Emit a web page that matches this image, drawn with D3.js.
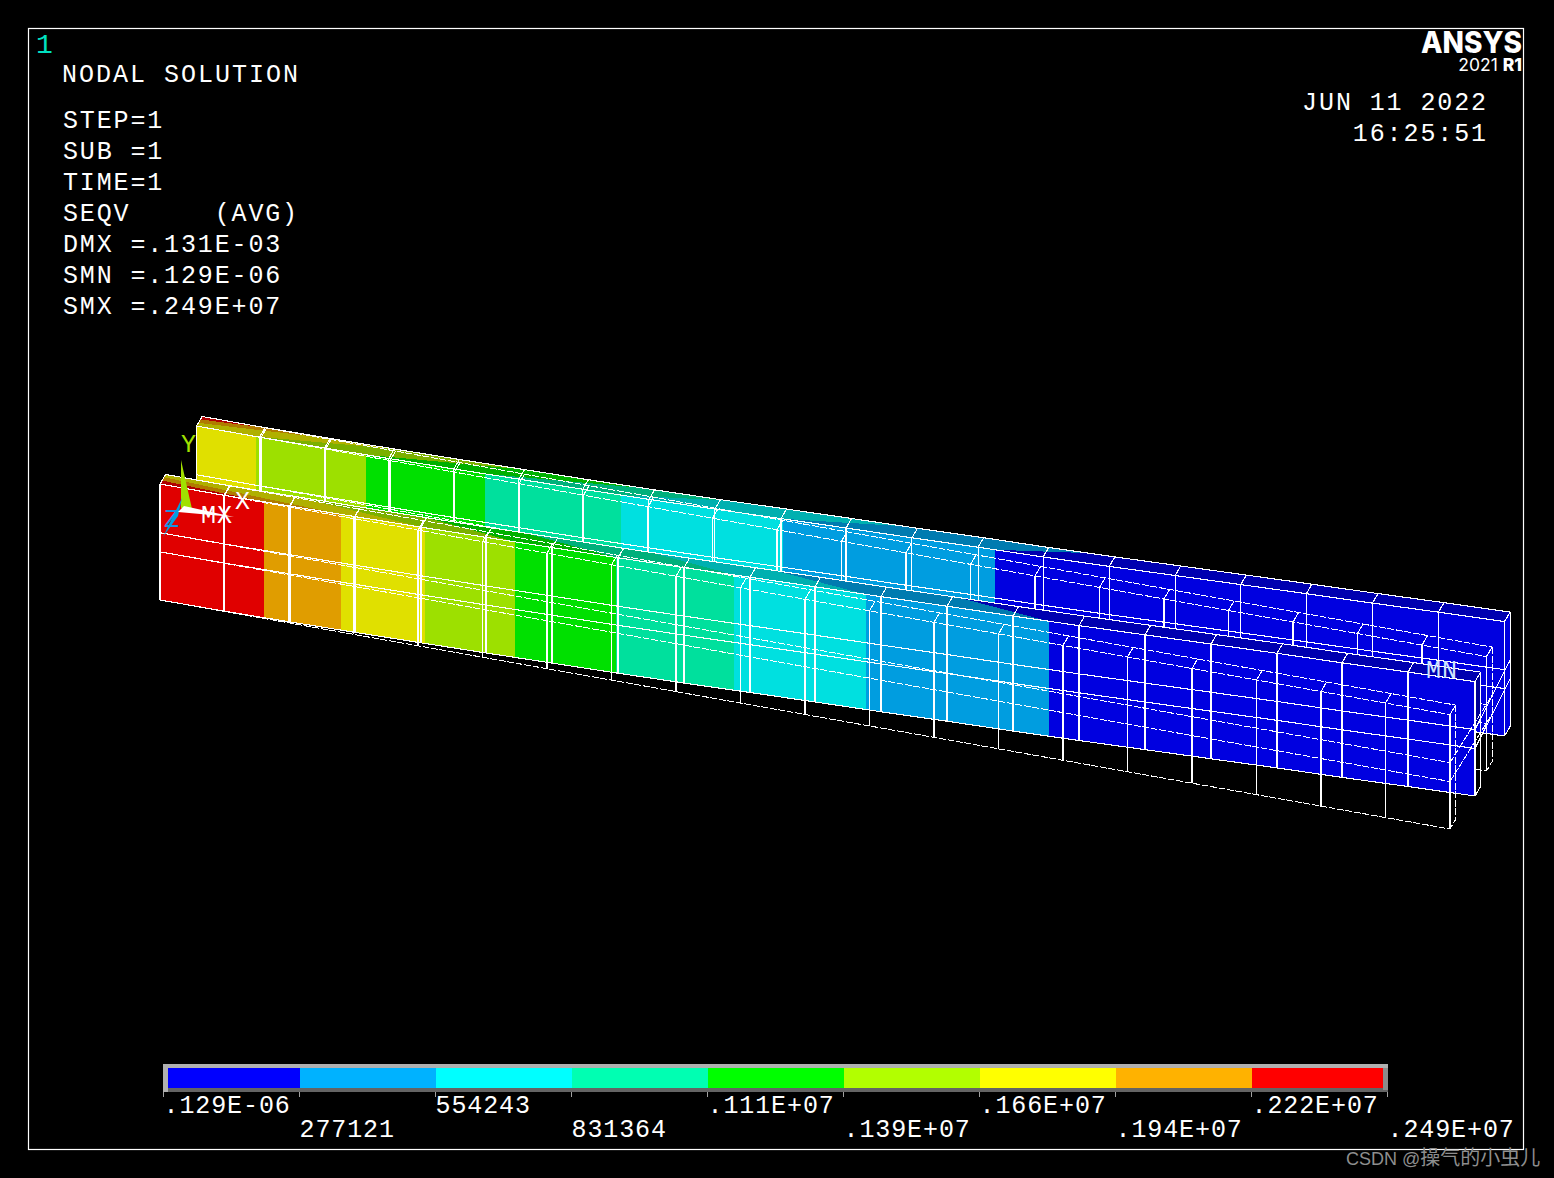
<!DOCTYPE html>
<html>
<head>
<meta charset="utf-8">
<title>SEQV nodal solution</title>
<script src="https://cdn.jsdelivr.net/npm/d3@7"></script>
<style>
  html, body { margin: 0; background: #000; overflow: hidden; }
  svg { display: block; }
  .wire { fill: none; stroke: #fff; stroke-width: 1.1; shape-rendering: crispEdges; }
  .dash { stroke-dasharray: 7 1.6; stroke-width: 1; }
  .face { shape-rendering: crispEdges; }
</style>
</head>
<body>
<script>
// Contour legend
const contourColors = ["#0000ff", "#00b2ff", "#00ffff", "#00ffb2", "#00ff00", "#b2ff00", "#ffff00", "#ffb200", "#ff0000"];
const contourLabels = [".129E-06", "277121", "554243", "831364", ".111E+07", ".139E+07", ".166E+07", ".194E+07", ".222E+07", ".249E+07"];

// Text blocks
const infoLines = ["STEP=1", "SUB =1", "TIME=1", "SEQV     (AVG)", "DMX =.131E-03", "SMN =.129E-06", "SMX =.249E+07"];
const dateLines = ["JUN 11 2022", "16:25:51"];

// Mesh: 20 elements along each plate, node numbers 0..20
const elementCount = 20;
// Section levels as a share of plate height: bottom, web low, web high, top
const sectionLevels = [0, 0.415, 0.58, 1];

// Displacement of each node as a share of the tip displacement
const liftShare = [0, 0.01, 0.03, 0.06, 0.09, 0.13, 0.17, 0.21, 0.26, 0.32, 0.38, 0.43, 0.49, 0.54, 0.6, 0.67, 0.74, 0.81, 0.87, 0.94, 1];
const slideFront = [0, -0.02, 0.04, 0.06, 0.12, 0.14, 0.2, 0.26, 0.32, 0.38, 0.4, 0.46, 0.52, 0.58, 0.64, 0.7, 0.76, 0.82, 0.84, 0.9, 1];
const slideBack = [0, -0.08, -0.05, -0.07, -0.04, -0.01, -0.04, 0.05, 0.13, 0.22, 0.25, 0.33, 0.42, 0.45, 0.54, 0.62, 0.68, 0.74, 0.83, 0.91, 1];

// Where neighbouring contour bands meet, in node numbers, blue/light blue first
const frontPlateFace = [13.54, 10.77, 8.76, 6.97, 5.44, 4.06, 2.78, 1.6];
const frontPlateRear = [12.1, 9.3, 7.4, 5.5, 4, 2, -1.4, -3.2];
const backPlateFace = [12.26, 9.03, 6.58, 4.48, 2.64, 0.94, -0.9, -2.2];
const backPlateRear = [13.6, 10.8, 8.1, 6.8, 5, 3, 2, 1];

const width = 1554;
const height = 1178;

const svg = d3.select("body").append("svg").attr("width", width).attr("height", height);

// Frame
svg.append("rect").attr("x", 28.5).attr("y", 28.5).attr("width", 1495).attr("height", 1121)
  .attr("fill", "none").attr("stroke", "#fff").attr("stroke-width", 1.2);

const nodes = d3.range(elementCount + 1);
const liftAt = d3.scaleLinear().domain(nodes).range(liftShare);
const slideAt = [
  d3.scaleLinear().domain(nodes).range(slideFront),
  d3.scaleLinear().domain(nodes).range(slideBack)
];
const tipSlide = [25, 18];
const tipLift = [33, 35];

// Oblique view of the model. plate 0 = front, 1 = back
const axialX = d3.scaleLinear().domain([0, elementCount]).range([160, 1450]);
const axialY = d3.scaleLinear().domain([0, elementCount]).range([600, 829]);
const plateHeight = d3.scaleLinear().domain([0, elementCount]).range([116, 114.4]);

function pt(plate, node, level, depth, deformed) {
  let x = axialX(node) + plate * 36.5 + depth * 5.6;
  let y = axialY(node) - level * plateHeight(node) - plate * 58 - depth * 9.5;
  if (deformed) {
    x += tipSlide[plate] * slideAt[plate](node);
    y -= tipLift[plate] * liftAt(node);
  }
  return [x, y];
}

const line = d3.line();

// Points along one long edge, with a point at every node passed
function edge(plate, from, to, level, depth, deformed) {
  const inner = nodes.filter((n) => n > from && n < to);
  return [from, ...inner, to].map((n) => pt(plate, n, level, depth, deformed));
}

function drawWire(g, points, dashed) {
  g.append("path").attr("class", dashed ? "wire dash" : "wire").attr("d", line(points));
}

function drawPlateFaces(g, plate, faceBreaks, rearBreaks) {
  const clipId = "topclip" + plate;
  svg.append("clipPath").attr("id", clipId).append("path")
    .attr("d", line([...edge(plate, 0, elementCount, 1, 0, true), ...edge(plate, 0, elementCount, 1, 1, true).reverse()]) + "Z");

  contourColors.forEach((c, i) => {
    const faceEnd = i === 0 ? elementCount : faceBreaks[i - 1];
    const faceStart = i === contourColors.length - 1 ? -8 : faceBreaks[i];
    const rearEnd = i === 0 ? elementCount : rearBreaks[i - 1];
    const rearStart = i === contourColors.length - 1 ? -8 : rearBreaks[i];
    const rgb = d3.rgb(c);

    // front surface, only the part from node 0 on
    const s1 = Math.max(faceStart, 0);
    if (faceEnd > 0) {
      g.append("path").attr("class", "face")
        .attr("fill", d3.rgb(rgb.r * 0.88, rgb.g * 0.88, rgb.b * 0.88))
        .attr("d", line([...edge(plate, s1, faceEnd, 0, 0, true), ...edge(plate, s1, faceEnd, 1, 0, true).reverse()]) + "Z");
    }
    // upper surface, darker
    g.append("path").attr("class", "face").attr("clip-path", "url(#" + clipId + ")")
      .attr("fill", d3.rgb(rgb.r * 0.69, rgb.g * 0.69, rgb.b * 0.69))
      .attr("d", line([...edge(plate, faceStart, faceEnd, 1, 0, true), ...edge(plate, rearStart, rearEnd, 1, 1, true).reverse()]) + "Z");
  });

  // end of the plate
  const t = elementCount;
  const endShade = d3.rgb(0, 0, plate === 1 ? 224 : 150);
  const lowLevel = plate === 1 ? 0 : sectionLevels[2];
  g.append("path").attr("class", "face").attr("fill", endShade)
    .attr("d", line([pt(plate, t, lowLevel, 0, true), pt(plate, t, 1, 0, true), pt(plate, t, 1, 1, true), pt(plate, t, lowLevel, 1, true)]) + "Z");
}

// All edges of one plate. Deformed lines are solid, the undeformed outline is dashed
function drawPlateWire(g, plate, deformed) {
  const t = elementCount;
  const dashed = !deformed;
  sectionLevels.forEach((lv) => {
    drawWire(g, edge(plate, 0, t, lv, 0, deformed), dashed);
  });
  drawWire(g, edge(plate, 0, t, 1, 1, deformed), dashed);
  nodes.forEach((n) => {
    drawWire(g, [pt(plate, n, 0, 0, deformed), pt(plate, n, 1, 0, deformed)], false);
    drawWire(g, [pt(plate, n, 1, 0, deformed), pt(plate, n, 1, 1, deformed)], false);
  });
  // tip outline
  drawWire(g, [pt(plate, t, 1, 1, deformed), pt(plate, t, 0, 1, deformed), pt(plate, t, 0, 0, deformed)], dashed);
}

function drawWebTip(g, deformed) {
  const t = elementCount;
  sectionLevels.slice(1, 3).forEach((lv) => {
    drawWire(g, [pt(0, t, lv, 0, deformed), pt(1, t, lv, 1, deformed)], !deformed);
  });
}

const model = svg.append("g");

// Painted back to front
drawPlateFaces(model, 1, backPlateFace, backPlateRear);
drawPlateWire(model, 1, true);
drawPlateWire(model, 1, false);
drawPlateFaces(model, 0, frontPlateFace, frontPlateRear);
drawPlateWire(model, 0, true);
drawWebTip(model, true);
drawWebTip(model, false);
drawPlateWire(model, 0, false);

// Fixed cell text, one glyph per cell like the ANSYS plot font
const plotFont = '"Liberation Mono"';

function monoText(parent, str, x, y, cell, size, color) {
  parent.append("text")
    .attr("x", x)
    .attr("y", y)
    .attr("font-family", plotFont)
    .attr("font-size", size)
    .attr("letter-spacing", cell - size * 0.6)
    .attr("fill", color)
    .style("white-space", "pre")
    .text(str);
}

const labels = svg.append("g");
monoText(labels, "1", 36, 53, 17, 28, "#00e0c0");
monoText(labels, "NODAL SOLUTION", 62, 82, 17, 25, "#fff");
infoLines.forEach((s, i) => monoText(labels, s, 63, 128 + i * 31, 16.85, 25, "#fff"));
dateLines.forEach((s, i) => monoText(labels, s, 1488 - s.length * 16.9, 110 + i * 31, 16.9, 25, "#fff"));

// Coordinate triad
const triad = svg.append("g");
triad.append("path").attr("fill", "#a0e000").attr("d", line([[181, 460], [192, 509], [181, 508]]) + "Z");
triad.append("path").attr("fill", "#00a0e0").attr("d", line([[182, 498], [163, 537], [178, 516]]) + "Z");
triad.append("path").attr("fill", "#fff").attr("d", line([[178, 512], [184, 506], [234, 517]]) + "Z");
monoText(labels, "Y", 181, 452, 17, 25, "#a0e000");
monoText(labels, "Z", 164, 527, 16, 25, "#1e90e0");
monoText(labels, "X", 235, 509, 16, 25, "#fff");
monoText(labels, "MX", 201, 523, 16, 25, "#fff");
monoText(labels, "MN", 1426, 678, 16, 25, "#cfe4ff");

// Contour bar
const legendX = d3.scaleLinear().domain([0, contourColors.length]).range([163.5, 1387.5]);
const legend = svg.append("g");
legend.append("rect").attr("x", 163).attr("y", 1064).attr("width", 1225).attr("height", 28).attr("fill", "#b0b0b0");
legend.append("rect").attr("x", 168).attr("y", 1088).attr("width", 1220).attr("height", 4).attr("fill", "#646464");
legend.append("rect").attr("x", 1383).attr("y", 1068).attr("width", 5).attr("height", 22).attr("fill", "#8c8c8c");
legend.selectAll(".band").data(contourColors).enter().append("rect")
  .attr("class", "band face")
  .attr("x", (d, i) => (i === 0 ? 168 : legendX(i)))
  .attr("y", 1068)
  .attr("width", (d, i) => (i === 8 ? 1383 : legendX(i + 1)) - (i === 0 ? 168 : legendX(i)))
  .attr("height", 20)
  .attr("fill", (d) => d);
legend.selectAll(".tick").data(contourLabels).enter().append("line")
  .attr("class", "tick")
  .attr("x1", (d, i) => legendX(i)).attr("x2", (d, i) => legendX(i))
  .attr("y1", 1092).attr("y2", 1097)
  .attr("stroke", "#a0a0a0").attr("stroke-width", 1);
contourLabels.forEach((s, i) => {
  monoText(legend, s, legendX(i), i % 2 === 0 ? 1113 : 1137, 15.9, 25, "#fff");
});

// Logo
svg.append("text").attr("x", 1522).attr("y", 53).attr("text-anchor", "end")
  .attr("font-family", "Inter").attr("font-weight", 800).attr("font-size", 30)
  .attr("textLength", 101).attr("lengthAdjust", "spacingAndGlyphs")
  .attr("fill", "#fff").text("ANSYS");
const release = svg.append("text").attr("x", 1522).attr("y", 71).attr("text-anchor", "end")
  .attr("font-family", "Inter").attr("font-size", 17.5).attr("fill", "#fff");
release.append("tspan").text("2021 ");
release.append("tspan").attr("font-weight", 800).text("R1");

// Watermark
const mark = svg.append("text").attr("x", 1346).attr("y", 1165).attr("fill", "#8e8e8e");
mark.append("tspan").attr("font-family", '"Liberation Sans"').attr("font-size", 18).text("CSDN @");
mark.append("tspan").attr("font-family", '"Noto Sans CJK SC"').attr("font-size", 20).text("操气的小虫儿");
</script>
</body>
</html>
